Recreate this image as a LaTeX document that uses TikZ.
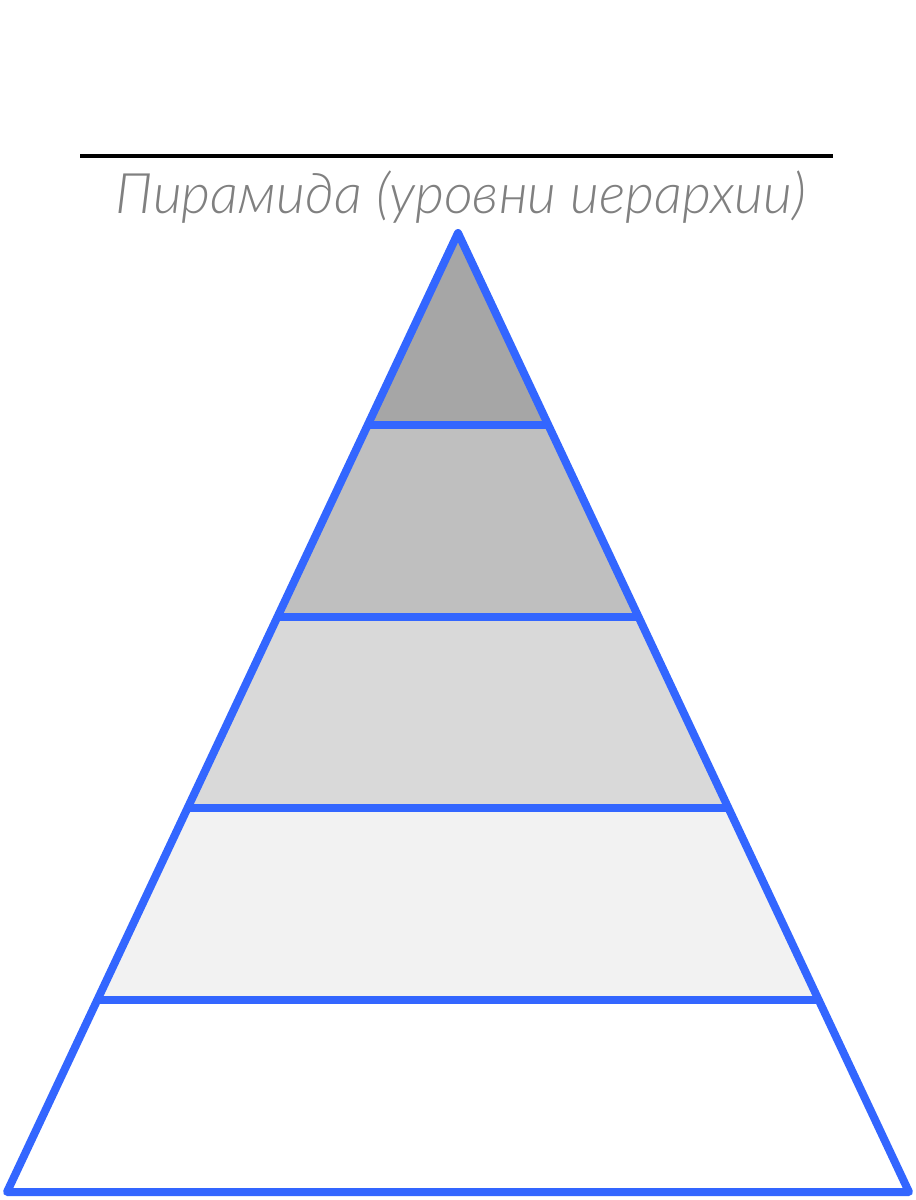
\documentclass[tikz,border=0pt]{standalone}
\usepackage{fontspec}
\usetikzlibrary{calc}
\newfontfamily\titlefont{Lato Light Italic}
\definecolor{pblue}{HTML}{3366FF}
\definecolor{tgray}{HTML}{808080}
\tikzset{
  edge/.style={draw=pblue, line width=8pt, line join=round, line cap=round},
}
\begin{document}
\begin{tikzpicture}[x=1pt,y=-1pt]
\useasboundingbox (0,0) rectangle (916,1200);
\coordinate (A) at (458,233);
\coordinate (L) at (7,1192);
\coordinate (R) at (909,1192);
\fill[white] (L) -- (R) -- (A) -- cycle;
\foreach \i/\c in {1/A6A6A6,2/BFBFBF,3/D9D9D9,4/F2F2F2}{
  \definecolor{lc}{HTML}{\c}
  \pgfmathsetmacro{\ta}{(\i-1)/5}
  \pgfmathsetmacro{\tb}{\i/5}
  \fill[lc] ($(A)!\ta!(L)$) -- ($(A)!\tb!(L)$) -- ($(A)!\tb!(R)$) -- ($(A)!\ta!(R)$) -- cycle;
}
\foreach \i in {1,2,3,4}{
  \pgfmathsetmacro{\tb}{\i/5}
  \draw[edge, line cap=butt] ($(A)!\tb!(L)$) -- ($(A)!\tb!(R)$);
}
\draw[edge] (A) -- (L) -- (R) -- cycle;
\draw[line width=4pt] (80,156) coordinate (t1) -- (833,156) coordinate (t2);
\node[anchor=base, text=tgray, inner sep=0pt] (title) at (461,213)
  {\resizebox{690pt}{!}{\titlefont Пирамида (уровни иерархии)}};
\end{tikzpicture}
\end{document}
